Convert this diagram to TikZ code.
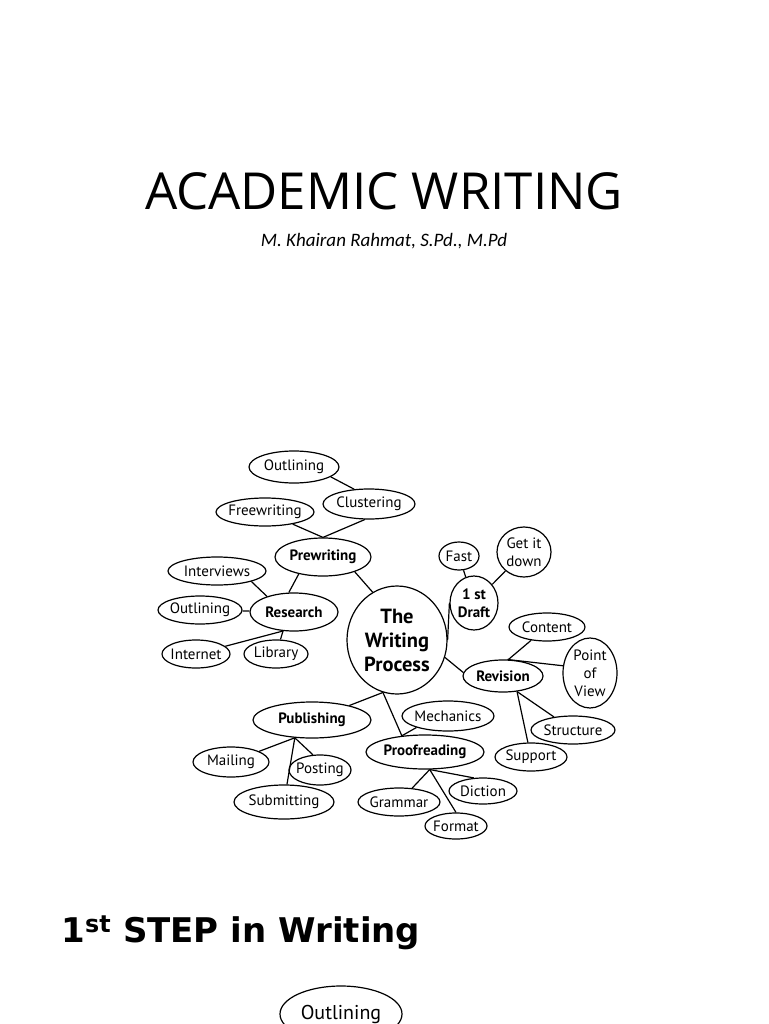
\documentclass[tikz,border=0pt]{standalone}
\usepackage{fontspec}
\newfontfamily\titlefont{Open Sans}
\newfontfamily\namefont{Carlito}
\newfontfamily\headfont{DejaVu Sans}
\newfontfamily\mapfont{PT Sans}
\usetikzlibrary{shapes.geometric}

\begin{document}
\begin{tikzpicture}[
    x=1pt, y=-1pt,
    bubble/.style={ellipse, draw, line width=1.2pt, inner xsep=-6pt, inner ysep=-3pt, align=center, font=\mapfont\fontsize{15}{18}\selectfont},
    topic/.style={bubble, font=\mapfont\bfseries\fontsize{15}{18}\selectfont},
    link/.style={line width=1.2pt}
  ]
\useasboundingbox (0,0) rectangle (768,1024);

% Titles
\node[anchor=base, font=\titlefont\fontsize{51}{61}\selectfont] (title) at (384,210) {ACADEMIC WRITING};
\node[anchor=base, font=\namefont\itshape\fontsize{19}{23}\selectfont] (author) at (384,246) {M. Khairan Rahmat, S.Pd., M.Pd};

% Centre
\node[topic, minimum width=100pt, minimum height=108pt, font=\mapfont\bfseries\fontsize{20.5}{24}\selectfont] (process) at (397,640) {The\\Writing\\Process};

% Prewriting branch
\node[bubble, minimum width=90pt, minimum height=32pt] (outlineA) at (294,467) {Outlining};
\node[bubble, minimum width=92pt, minimum height=30pt] (cluster) at (369,504) {Clustering};
\node[bubble, minimum width=98pt, minimum height=28pt] (freewrite) at (265,512) {Freewriting};
\node[topic, minimum width=96pt, minimum height=38pt] (prewrite) at (323,557) {Prewriting};
\node[bubble, minimum width=98pt, minimum height=28pt] (interview) at (217,571) {Interviews};
\node[bubble, minimum width=84pt, minimum height=28pt] (outlineB) at (200,610) {Outlining};
\node[topic, minimum width=88pt, minimum height=38pt] (research) at (294,612) {Research};
\node[bubble, minimum width=68pt, minimum height=28pt] (internet) at (196,654) {Internet};
\node[bubble, minimum width=64pt, minimum height=28pt] (library) at (276,654) {Library};

% Draft branch
\node[bubble, minimum width=40pt, minimum height=28pt] (fast) at (459,556) {Fast};
\node[bubble, minimum width=54pt, minimum height=50pt] (getdown) at (524,552) {Get it\\down};
\node[topic, minimum width=48pt, minimum height=54pt] (draft) at (474,603) {1 st\\Draft};

% Revision branch
\node[bubble, minimum width=76pt, minimum height=28pt] (content) at (547,627) {Content};
\node[bubble, minimum width=54pt, minimum height=70pt] (pov) at (590,673) {Point\\of\\View};
\node[topic, minimum width=80pt, minimum height=32pt] (revision) at (503,676) {Revision};
\node[bubble, minimum width=84pt, minimum height=28pt] (structure) at (573,730) {Structure};
\node[bubble, minimum width=72pt, minimum height=28pt] (support) at (531,757) {Support};

% Proofreading branch
\node[bubble, minimum width=92pt, minimum height=30pt] (mechanics) at (448,716) {Mechanics};
\node[topic, minimum width=118pt, minimum height=34pt] (proofread) at (425,752) {Proofreading};
\node[bubble, minimum width=82pt, minimum height=28pt] (grammar) at (399,802) {Grammar};
\node[bubble, minimum width=68pt, minimum height=26pt] (diction) at (483,791) {Diction};
\node[bubble, minimum width=62pt, minimum height=26pt] (format) at (456,826) {Format};

% Publishing branch
\node[topic, minimum width=118pt, minimum height=36pt] (publish) at (312,720) {Publishing};
\node[bubble, minimum width=76pt, minimum height=30pt] (mailing) at (231,762) {Mailing};
\node[bubble, minimum width=62pt, minimum height=30pt] (posting) at (320,770) {Posting};
\node[bubble, minimum width=100pt, minimum height=34pt] (submit) at (284,802) {Submitting};

% Links
\draw[link] (outlineA.345) -- (cluster.135);
\draw[link] (cluster.255) -- (prewrite.north);
\draw[link] (freewrite) -- (prewrite.north);
\draw[link] (prewrite.215) -- (research.105);
\draw[link] (prewrite.335) -- (process.117);
\draw[link] (interview.343) -- (research.150);
\draw[link] (outlineB) -- (research);
\draw[link] (research.240) -- (internet);
\draw[link] (research.240) -- (library);
\draw[link] (fast) -- (draft);
\draw[link] (getdown) -- (draft);
\draw[link] (draft.west) -- (process.east);
\draw[link] (process.340) -- (revision.175);
\draw[link] (revision.72) -- (content.220);
\draw[link] (revision.75) -- (pov.165);
\draw[link] (revision.312) -- (structure);
\draw[link] (revision.312) -- (support);
\draw[link] (process.255) -- (publish);
\draw[link] (process.255) -- (proofread.145);
\draw[link] (proofread.145) -- (mechanics.200);
\draw[link] (publish.226) -- (mailing);
\draw[link] (publish.226) -- (posting.115);
\draw[link] (publish.226) -- (submit);
\draw[link] (proofread.285) -- (grammar);
\draw[link] (proofread.285) -- (diction.125);
\draw[link] (proofread.285) -- (format.north);

% Step heading
\node[anchor=base west, font=\headfont\bfseries\fontsize{34}{41}\selectfont] (step) at (58,942) {1\textsuperscript{st} STEP in Writing};
\node[bubble, minimum width=122pt, minimum height=56pt, font=\mapfont\fontsize{20}{24}\selectfont] (outlineC) at (341,1014) {Outlining};

\end{tikzpicture}
\end{document}
